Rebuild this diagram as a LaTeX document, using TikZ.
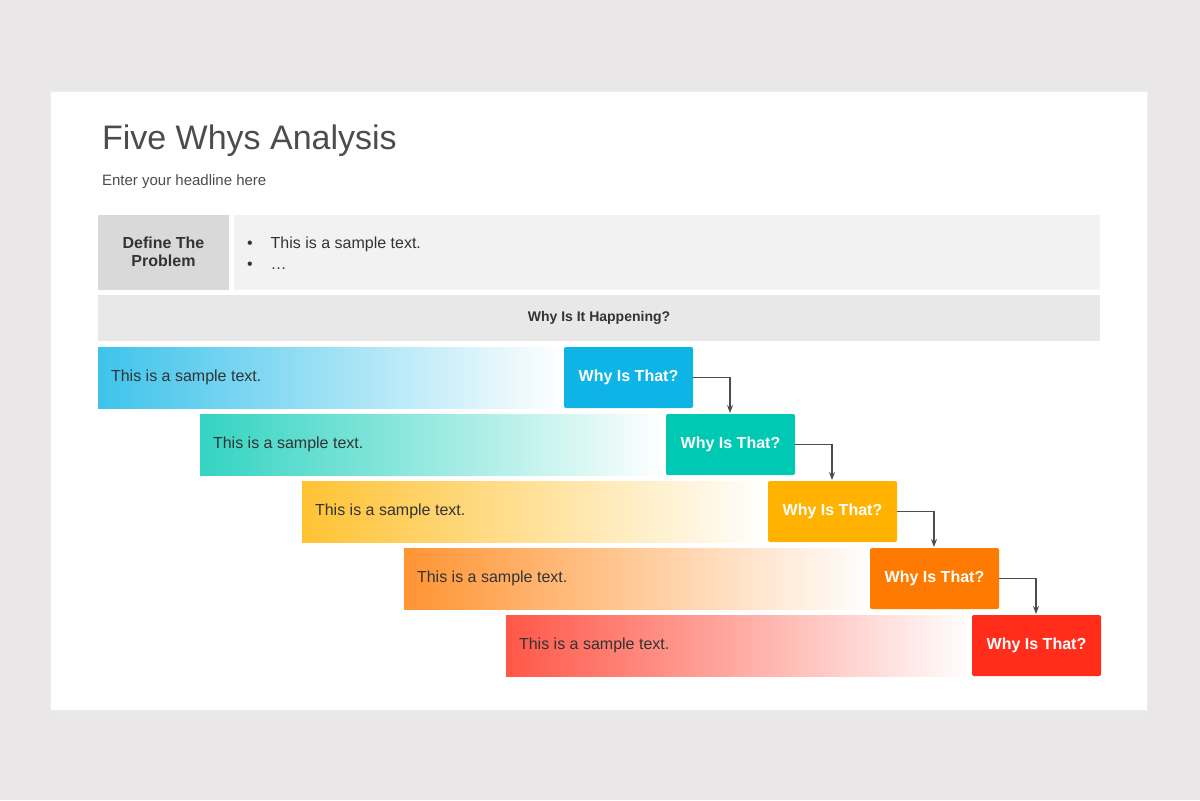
\documentclass[tikz,border=0pt]{standalone}
\usepackage{fontspec}
\setmainfont{Liberation Sans}
\usetikzlibrary{arrows.meta}
\definecolor{bg}{HTML}{E9E7E8}
\definecolor{c0}{HTML}{0EB4E6}
\definecolor{c1}{HTML}{00C9B3}
\definecolor{c2}{HTML}{FFB300}
\definecolor{c3}{HTML}{FF7A00}
\definecolor{c4}{HTML}{FF2D1A}
\definecolor{g1}{HTML}{D9D9D9}
\definecolor{g2}{HTML}{F2F2F2}
\definecolor{g3}{HTML}{E8E8E8}
\definecolor{tx}{HTML}{333333}
\begin{document}
\begin{tikzpicture}[x=0.5pt,y=-0.5pt,
 why/.style={font=\bfseries\fontsize{8}{9.6}\selectfont,text=white},
 sample/.style={font=\fontsize{8}{9.6}\selectfont,text=tx,anchor=west},
 conn/.style={draw=black!70,line width=0.7pt,-{Stealth[length=4pt]}}]
\fill[bg] (0,0) rectangle (1200,800);
\fill[black!8] (49,90) rectangle (1149,713);
\fill[white] (51,92) rectangle (1147,710);
\node[anchor=west,text=black!70,font=\fontsize{17}{20}\selectfont] (title) at (95,141) {Five Whys Analysis};
\node[anchor=west,text=black!70,font=\fontsize{7.5}{9}\selectfont] (sub) at (95,182) {Enter your headline here};
\fill[g1] (98,215) rectangle (229,290);
\node[align=center,text=tx,font=\bfseries\fontsize{8}{9}\selectfont] (def) at (163.5,252) {Define The\\Problem};
\fill[g2] (234,215) rectangle (1100,290);
\node[sample,align=left] (pt) at (240,253) {\textbullet\hspace{9pt}This is a sample text.\\[1pt]\textbullet\hspace{9pt}\dots};
\fill[g3] (98,295) rectangle (1100,341);
\node[font=\bfseries\fontsize{7}{8}\selectfont,text=tx] (wh) at (599,318) {Why Is It Happening?};
\foreach \i in {0,...,4}{
 \pgfmathsetmacro{\xl}{98+102*\i}
 \pgfmathsetmacro{\xw}{564+102*\i}
 \pgfmathsetmacro{\xe}{693+102*\i}
 \pgfmathsetmacro{\yt}{347+67*\i}
 \shade[left color=c\i!80,right color=white] (\xl,\yt) rectangle (\xw,\yt+61);
 \node[sample] (s\i) at (\xl+6,\yt+30.5) {This is a sample text.};
 \fill[c\i,rounded corners=1pt] (\xw,\yt) rectangle (\xe,\yt+61);
 \node[why] (w\i) at ({(\xw+\xe)/2},\yt+30.5) {Why Is That?};
 \coordinate (r\i) at (\xe,\yt+30.5);
 \coordinate (t\i) at ({(\xw+\xe)/2},\yt);
}
\foreach \i/\j in {0/1,1/2,2/3,3/4}{
 \pgfmathsetmacro{\tx}{730+102*\i}
 \pgfmathsetmacro{\ty}{413+67*\i}
 \draw[conn] (r\i) -| (\tx,\ty);
}
\end{tikzpicture}
\end{document}
